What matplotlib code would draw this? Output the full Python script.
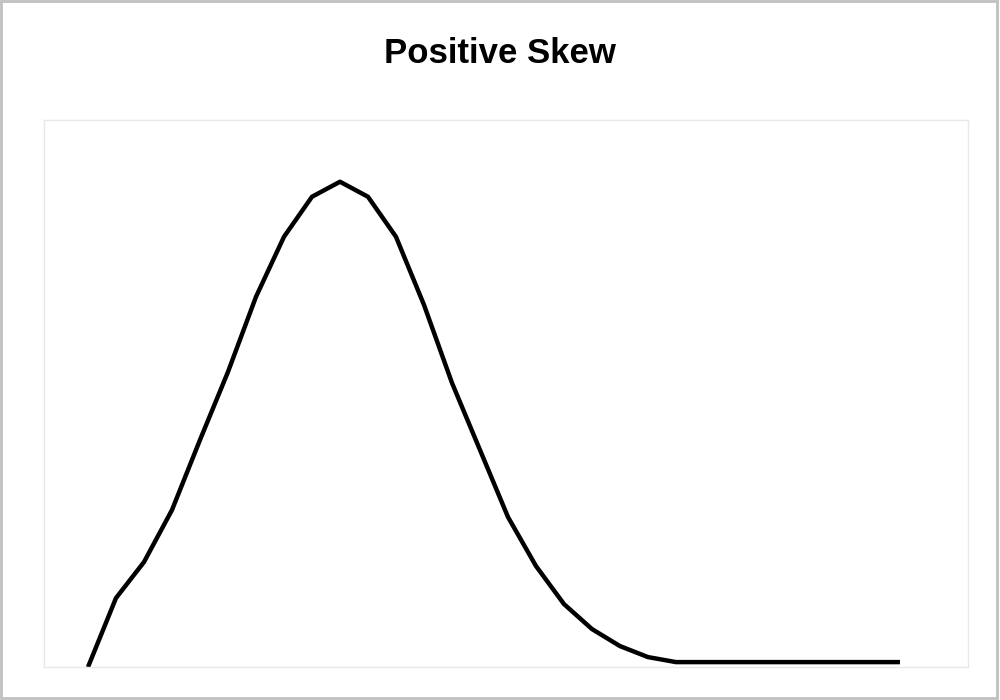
import matplotlib
matplotlib.use("Agg")
import matplotlib.pyplot as plt
from matplotlib.patches import Rectangle

# values (one point per category)
points = list(range(30))
heights = [0, 69, 105, 157, 227, 295, 370, 430, 470, 485,
           470, 430, 362, 284, 217, 150, 101, 63, 38, 21,
           10, 5, 5, 5, 5, 5, 5, 5, 5, 5]
title = "Positive Skew"

plt.rcParams['font.family'] = ['Liberation Sans', 'DejaVu Sans']

fig = plt.figure(figsize=(10, 7), dpi=100)
ax = fig.add_axes([0.044, 0.047, 0.924, 0.782])

ax.plot(points, heights, color='black', lw=3.2, solid_joinstyle='round',
        solid_capstyle='butt', clip_on=False)

ax.set_xlim(-1.571, 31.43)
ax.set_ylim(0, 547)
ax.set_xticks([]); ax.set_yticks([])
for s in ax.spines.values():
    s.set_color('#e8e8e8'); s.set_linewidth(1)

fig.text(0.5, 0.924, title, ha='center', va='center', fontsize=25, fontweight='bold')

# outer frame of the chart object
fig.add_artist(Rectangle((0.001, 0.003), 0.996, 0.995, transform=fig.transFigure,
                         fill=False, edgecolor='#c0c0c0', lw=2))

fig.savefig('out.png', dpi=100)
